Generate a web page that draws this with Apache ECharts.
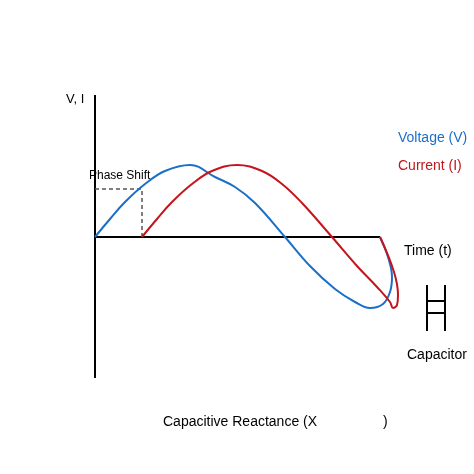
<!DOCTYPE html><html><head><meta charset="utf-8"><script src="https://cdn.jsdelivr.net/npm/echarts@6/dist/echarts.min.js"></script></head><body style="margin:0"><div id="c" style="width:474px;height:474px"></div><script>
const voltageX=[0,15,30,50,70,95,120,140,160,190,215,240,260,275,288,295,297,293,285];
const voltageY=[0,18,35,53,66,72,60,50,34,0,-29,-52,-65,-71,-67,-55,-40,-20,0];
const currentX=[47,62,77,97,117,142,167,187,207,237,262,282,295,298,302,303,299,285];
const currentY=[0,18,35,53,66,72,66,53,34,0,-29,-50,-65,-71,-68,-58,-35,0];
const axisV=[[0,142],[0,-141]];
const axisH=[[0,0],[285,0]];
const phaseLine=[[0,48],[47,48],[47,0]];
const zip=(a,b)=>a.map((v,i)=>[v,b[i]]);
const ch=echarts.init(document.getElementById('c'));
const t=(x,y,s,c,fs)=>({type:'text',left:x,top:y,style:{text:s,fill:c||'#000',font:(fs||13)+'px Liberation Sans, Arial'}});
const ln=(x1,y1,x2,y2)=>({type:'line',shape:{x1,y1,x2,y2},style:{stroke:'#000',lineWidth:2}});
ch.setOption({animation:false,
grid:{left:95,right:74,top:95,bottom:96},
xAxis:{type:'value',min:0,max:305,show:false},
yAxis:{type:'value',min:-141,max:142,show:false},
series:[
{type:'line',data:axisV,symbol:'none',lineStyle:{color:'#000',width:2}},
{type:'line',data:axisH,symbol:'none',lineStyle:{color:'#000',width:2}},
{type:'line',data:phaseLine,symbol:'none',lineStyle:{color:'#555',width:1.5,type:[4,3]}},
{type:'line',data:zip(voltageX,voltageY),smooth:0.4,symbol:'none',lineStyle:{color:'#1a6fc9',width:2}},
{type:'line',data:zip(currentX,currentY),smooth:0.4,symbol:'none',lineStyle:{color:'#c4141c',width:2}}
],
graphic:[
t(66,93,'V, I'),t(89,170,'Phase Shift','#000',12),
t(398,131,'Voltage (V)','#1a6fc9',14),t(398,159,'Current (I)','#c4141c',14),
t(404,244,'Time (t)','#000',14),t(407,348,'Capacitor','#000',14),
t(163,415,'Capacitive Reactance (X','#000',14),t(383,415,')','#000',14),
ln(427,285,427,331),ln(445,285,445,331),ln(427,301,445,301),ln(427,313,445,313)
]});
</script></body></html>
